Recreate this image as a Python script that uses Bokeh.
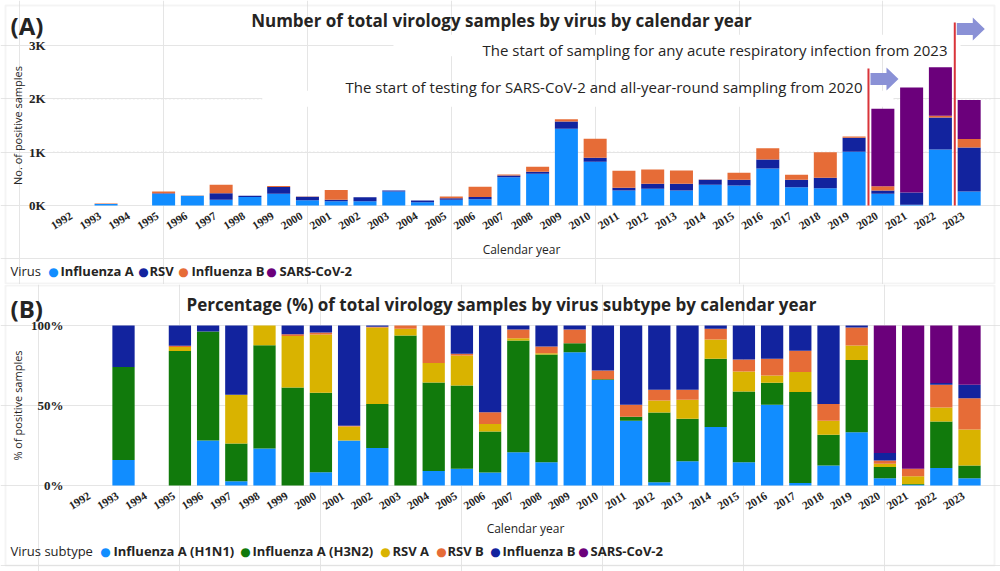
from bokeh.plotting import figure
from bokeh.models import ColumnDataSource, Label, LabelSet, BoxAnnotation, Range1d
from bokeh.layouts import column
from bokeh.embed import file_html
from bokeh.resources import INLINE

# ---------------------------------------------------------------- data
years = list(range(1992, 2024))

# (A) number of positive samples by virus
flu_a = [0, 28, 0, 222, 181, 107, 160, 222, 99, 80, 80, 264, 61, 106, 119, 529,
         595, 1441, 819, 281, 312, 281, 388, 375, 694, 344, 325, 1006, 219, 15, 1050, 262]
rsv = [0, 0, 0, 10, 0, 122, 22, 124, 65, 30, 75, 17, 33, 32, 42, 35,
       36, 135, 75, 50, 94, 125, 94, 106, 169, 137, 194, 262, 62, 230, 600, 825]
flu_b = [0, 10, 0, 32, 8, 161, 0, 19, 7, 181, 2, 0, 0, 30, 189, 17,
         94, 40, 356, 319, 269, 250, 6, 131, 212, 94, 481, 25, 81, 0, 31, 162]
sars = [0] * 28 + [1450, 1969, 912, 731]

# (B) percentage of positive samples by virus subtype
pct_h1n1 = [0, 16, 0, 0, 28.1, 2.7, 23.1, 0, 8.3, 28.1, 23.5, 0, 9, 10.4, 8.1, 20.8,
            14.6, 83.3, 66, 40.4, 2.1, 15.2, 36.5, 14.6, 50.4, 1.5, 12.5, 33.3, 4.6, 0.4, 11, 4.6]
pct_h3n2 = [0, 58, 0, 84, 68.1, 23.5, 64.6, 61.3, 49.6, 0, 27.5, 93.7, 55.4, 52.1, 25.6, 69.8,
            67.3, 5.6, 0.4, 2.5, 43.5, 26.5, 42.7, 44.2, 13.8, 56.9, 19.2, 45.2, 6.9, 0.6, 29, 7.9]
pct_rsv_a = [0, 0, 0, 2.5, 0, 30.5, 12.3, 32.1, 36.5, 8.8, 47.8, 4.2, 12.1, 18.8, 4.8, 1.5,
             0.8, 0, 0, 0, 7.5, 11.9, 12.0, 12.5, 4.6, 12.5, 8.7, 9, 2.1, 4.8, 8.8, 22.5]
pct_rsv_b = [0, 0, 0, 0.8, 0, 0, 0, 1.2, 1.2, 0.4, 0.4, 2.1, 23.5, 1, 7.3, 5.4,
             4.2, 8.6, 5.5, 7.5, 6.7, 6.2, 6.7, 7.5, 10.4, 13.3, 10.6, 11.2, 2.1, 4.6, 14.2, 19.6]
pct_flu_b = [0, 26, 0, 12.7, 3.8, 43.3, 0, 5.4, 4.4, 62.7, 0.8, 0, 0, 17.7, 54.2, 2.5,
             13.1, 2.5, 28.1, 49.6, 40.2, 40.2, 2.1, 21.2, 20.8, 15.8, 49, 1.3, 4.6, 0, 1, 8.3]
pct_sars = [0] * 28 + [79.7, 89.6, 36, 37.1]

virus_names = ["Influenza A", "RSV", "Influenza B", "SARS-CoV-2"]
subtype_names = ["Influenza A (H1N1)", "Influenza A (H3N2)", "RSV A", "RSV B",
                 "Influenza B", "SARS-CoV-2"]
milestone_years = [2020, 2023]
count_ticks = [0, 1000, 2000, 3000]
count_labels = ["0K", "1K", "2K", "3K"]
pct_ticks = [0, 50, 100]
pct_labels = ["0%", "50%", "100%"]

# ---------------------------------------------------------------- style
LIGHT_BLUE = "#118DFF"
DARK_BLUE = "#12239E"
ORANGE = "#E66C37"
PURPLE = "#6B007B"
GREEN = "#117A0C"
YELLOW = "#D9B300"
TEXT = "#252423"
GRID = "#C8C8C8"
FONT = "Open Sans"
virus_colors = [LIGHT_BLUE, DARK_BLUE, ORANGE, PURPLE]
subtype_colors = [LIGHT_BLUE, GREEN, YELLOW, ORANGE, DARK_BLUE, PURPLE]


def canvas_text(p, text, x, y, size, bold=False, align="left", angle=0.0,
                color=TEXT, font=FONT):
    p.add_layout(Label(x=x, y=y, x_units="canvas", y_units="canvas", text=text,
                       text_font=font, text_font_size=f"{size}px",
                       text_font_style="bold" if bold else "normal",
                       text_color=color, text_align=align, text_baseline="middle",
                       angle=angle))


def panel_border(p, left, top, right, bottom):
    p.add_layout(BoxAnnotation(left=left, right=right, top=top, bottom=bottom,
                               left_units="canvas", right_units="canvas",
                               top_units="canvas", bottom_units="canvas",
                               fill_alpha=0, line_color="#DCDCDC", line_width=2))


def legend_row(p, title, names, colors, y, positions):
    canvas_text(p, title, 10, y, 13)
    for name, col, (cx, tx) in zip(names, colors, positions):
        canvas_text(p, "\u25cf", cx, y + 1, 12, align="center", color=col, font="DejaVu Sans")
        canvas_text(p, name, tx, y, 13, bold=True)


def year_axis(p, label_y):
    src = ColumnDataSource(dict(year=years, label=[str(y) for y in years]))
    p.add_layout(LabelSet(x="year", y=label_y, y_units="canvas", text="label", source=src,
                          angle=0.56, text_align="right", text_baseline="middle",
                          x_offset=-6, text_font=FONT, text_font_size="11.5px",
                          text_font_style="bold", text_color=TEXT))


def value_axis(p, ticks, labels, label_x, x_lo, x_hi):
    # dotted horizontal grid across the plotting area, with the tick labels at its left
    p.segment(x0=x_lo, x1=x_hi, y0=ticks, y1=ticks, line_color=GRID, line_width=1,
              line_dash="1 3", level="underlay")
    src = ColumnDataSource(dict(tick=ticks, label=labels))
    p.add_layout(LabelSet(x=label_x, y="tick", x_units="canvas", text="label", source=src,
                          text_align="right", text_baseline="middle", text_font=FONT,
                          text_font_size="13px", text_font_style="bold", text_color=TEXT))


def make_figure(height, x_range, y_range):
    p = figure(width=1000, height=height, x_range=x_range, y_range=y_range, title=None,
               toolbar_location=None, output_backend="svg", x_axis_location=None,
               y_axis_location=None, min_border=0, background_fill_color="white",
               border_fill_color="white")
    p.outline_line_color = None
    return p


# ---------------------------------------------------------------- panel A
src_a = ColumnDataSource(dict(year=years, flu_a=flu_a, rsv=rsv, flu_b=flu_b, sars=sars))
pa = make_figure(284, Range1d(1989.331, 2024.089), Range1d(-1481.25, 3843.75))
value_axis(pa, count_ticks, count_labels, 45, 1991.17, 2023.74)

# white boxes behind the annotation texts hide the grid there
for l, r, b, t in [(2002.99, 2022.70, 2800, 3200), (1998.43, 2020.37, 1850, 2150)]:
    pa.add_layout(BoxAnnotation(left=l, right=r, bottom=b, top=t, fill_color="white",
                                fill_alpha=1, line_color=None, level="underlay"))

pa.vbar_stack(["flu_a", "rsv", "flu_b", "sars"], x="year", width=0.8,
              color=virus_colors, line_color=None, source=src_a)

# milestone markers: red boundary lines and block arrows
line_tops = [2569, 3431]
arrow_y = [2372, 3309]
px_x = 1 / 28.77     # data units per pixel, x
px_y = 18.75         # data units per pixel, y
for yr, top, ay in zip(milestone_years, line_tops, arrow_y):
    xb = yr - 0.5
    pa.segment(x0=[xb], y0=[0], x1=[xb], y1=[top], line_color="#D9343A", line_width=2)
    x0 = xb + 2 * px_x
    xs = [x0, x0 + 16 * px_x, x0 + 16 * px_x, x0 + 28 * px_x,
          x0 + 16 * px_x, x0 + 16 * px_x, x0]
    ys = [ay + 6 * px_y, ay + 6 * px_y, ay + 11.5 * px_y, ay,
          ay - 11.5 * px_y, ay - 6 * px_y, ay - 6 * px_y]
    pa.patch(xs, ys, fill_color="#8A91D6", line_color=None)

year_axis(pa, 214)
canvas_text(pa, "(A)", 10, 25, 24, bold=True)
canvas_text(pa, "Number of total virology samples by virus by calendar year", 501, 20, 17,
            bold=True, align="center")
canvas_text(pa, "The start of sampling for any acute respiratory infection from 2023",
            947, 49, 15, align="right")
canvas_text(pa, "The start of testing for SARS-CoV-2 and all-year-round sampling from 2020",
            862, 86, 15, align="right")
canvas_text(pa, "No. of positive samples", 17, 125, 11, angle=1.5708, align="center")
canvas_text(pa, "Calendar year", 521, 249, 12, align="center")
legend_row(pa, "Virus", virus_names, virus_colors, 270,
           [(53, 60), (143, 149), (183, 191), (271, 279)])
panel_border(pa, 5, 5, 994, 283)

# ---------------------------------------------------------------- panel B
src_b = ColumnDataSource(dict(year=years, h1n1=pct_h1n1, h3n2=pct_h3n2, rsv_a=pct_rsv_a,
                              rsv_b=pct_rsv_b, flu_b=pct_flu_b, sars=pct_sars))
pb = make_figure(287, Range1d(1988.638, 2024.099), Range1d(-53.75, 125.625))
value_axis(pb, pct_ticks, pct_labels, 63, 1991.19, 2023.78)
pb.vbar_stack(["h1n1", "h3n2", "rsv_a", "rsv_b", "flu_b", "sars"], x="year", width=0.79,
              color=subtype_colors, line_color=None, source=src_b)

year_axis(pb, 210)
canvas_text(pb, "(B)", 10, 24, 24, bold=True)
canvas_text(pb, "Percentage (%) of total virology samples by virus subtype by calendar year",
            501, 20, 17, bold=True, align="center")
canvas_text(pb, "% of positive samples", 17, 121, 11, angle=1.5708, align="center")
canvas_text(pb, "Calendar year", 525, 244, 12, align="center")
legend_row(pb, "Virus subtype", subtype_names, subtype_colors, 266,
           [(105, 113), (245, 252), (385, 392), (441, 447), (495, 502), (583, 590)])
panel_border(pb, 5, 1, 994, 281)

layout = column(pa, pb)
open("out.html", "w").write(file_html(layout, INLINE))
